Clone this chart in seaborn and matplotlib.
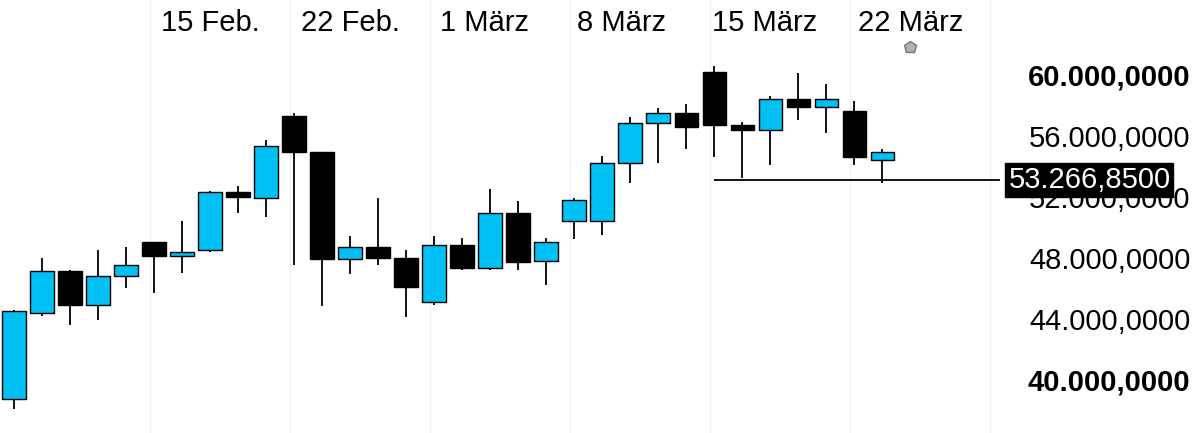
import numpy as np
import pandas as pd
import seaborn as sns
import matplotlib.pyplot as plt
from matplotlib.patches import Rectangle

sns.set_style('white')
plt.rcParams['font.family'] = ['Liberation Sans', 'DejaVu Sans']
plt.rcParams['text.color'] = 'black'

# prices in thousands
opens = [38.9, 44.6, 47.3, 45.1, 47.0, 49.2, 48.3, 48.7, 52.5, 52.1, 57.5, 55.1, 48.1, 48.9, 48.2, 45.3,
         49.0, 47.5, 51.1, 48.0, 50.6, 50.6, 54.4, 57.0, 57.7, 60.4, 56.9, 56.6, 58.6, 58.1, 57.8, 54.6]
highs = [44.8, 48.2, 47.4, 48.7, 48.9, 49.2, 50.6, 52.6, 52.9, 55.9, 57.7, 55.1, 49.6, 52.1, 48.7, 49.6,
         49.5, 52.7, 51.9, 49.5, 52.1, 54.9, 57.4, 58.0, 58.3, 60.8, 57.1, 58.8, 60.3, 59.6, 58.5, 55.3]
lows = [38.3, 44.4, 43.8, 44.1, 46.2, 45.9, 47.2, 48.6, 51.1, 50.9, 47.7, 45.0, 47.1, 47.7, 44.3, 45.1,
        47.4, 47.4, 47.4, 46.4, 49.4, 49.7, 53.1, 54.4, 55.3, 54.8, 53.4, 54.3, 57.2, 56.4, 54.3, 53.1]
closes = [44.7, 47.3, 45.1, 47.0, 47.7, 48.3, 48.6, 52.5, 52.2, 55.5, 55.1, 48.1, 48.9, 48.2, 46.3, 49.0,
          47.5, 51.1, 47.9, 49.2, 52.0, 54.4, 57.0, 57.7, 56.8, 56.9, 56.6, 58.6, 58.1, 58.6, 54.8, 55.1]
date_labels = ['15 Feb.', '22 Feb.', '1 März', '8 März', '15 März', '22 März']
date_pos = [7.0, 12.0, 16.8, 21.7, 26.8, 32.0]
y_ticks = [40, 44, 48, 52, 56, 60]
last_price = 53.26685
last_label = '53.266,8500'

df = pd.DataFrame({'o': opens, 'h': highs, 'l': lows, 'c': closes})
df['i'] = np.arange(len(df))

fig = plt.figure(figsize=(12, 4.33), dpi=100)
ax = fig.add_axes([0, 0, 1000 / 1200, 1])

for _, r in df.iterrows():
    up = r.c >= r.o
    ax.vlines(r.i, r.l, r.h, color='black', lw=1.3, zorder=2)
    lo, hi = min(r.o, r.c), max(r.o, r.c)
    ax.add_patch(Rectangle((r.i - 0.42, lo), 0.84, max(hi - lo, 0.15),
                           facecolor='#00bff3' if up else 'black', edgecolor='black', lw=1, zorder=3))

for k in range(7):
    ax.axvline(4.86 + 5 * k, color='#f0f0f0', lw=1, zorder=0)

ax.hlines(last_price, 25, 35.2, color='black', lw=1.3)
ax.set_xlim(-0.5, 35.2)
ax.set_ylim(36.7, 65.1)
ax.set_xticks([]); ax.set_yticks([])
for s in ax.spines.values():
    s.set_visible(False)

for p, t in zip(date_pos, date_labels):
    ax.text(p, 63.6, t, ha='center', va='center', fontsize=21)
ax.plot([32.0], [62.0], marker='p', ms=9, color='#b0b0b0', mec='#777777')

for v in y_ticks:
    ax.text(42.0, v, f'{v}.000,0000', ha='right', va='center',
            fontsize=21, fontweight='bold' if v in (40, 60) else 'normal', clip_on=False)
ax.text(35.5, last_price, last_label, ha='left', va='center', fontsize=21, color='white', clip_on=False,
        bbox=dict(facecolor='black', edgecolor='black', boxstyle='square,pad=0.1'))

fig.savefig('out.png')
